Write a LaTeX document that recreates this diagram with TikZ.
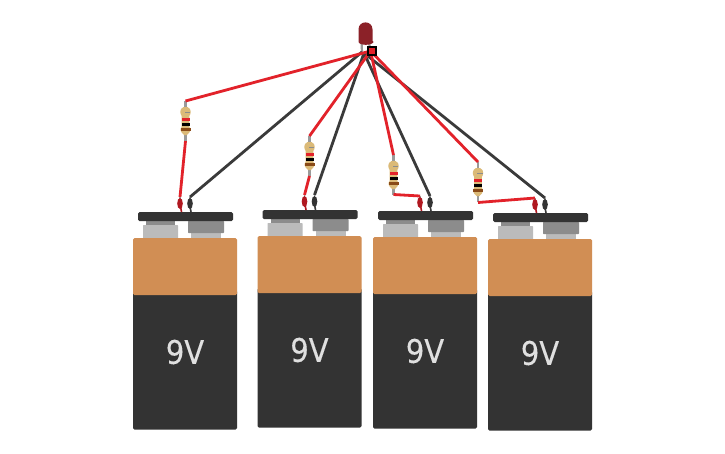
\documentclass[tikz,border=0pt]{standalone}
\usepackage{fontspec}
\setmainfont{DejaVu Sans}
\newfontfamily\voltfont[FakeBold=0.25]{DejaVu Sans}
\definecolor{batorange}{HTML}{D18E54}
\definecolor{batdark}{HTML}{333333}
\definecolor{studlight}{HTML}{BBBBBB}
\definecolor{studmid}{HTML}{8C8C8C}
\definecolor{wirered}{HTML}{E2222A}
\definecolor{wiredark}{HTML}{3A3A3A}
\definecolor{clipred}{HTML}{B01820}
\definecolor{legray}{HTML}{9A9A9A}
\definecolor{restan}{HTML}{DBBA78}
\definecolor{ledred}{HTML}{8B2128}
\definecolor{bandbrown}{HTML}{8A4B18}
\tikzset{
  x=1pt,y=-1pt,
  redwire/.style={draw=wirered,line width=2.8pt,line join=round},
  darkwire/.style={draw=wiredark,line width=2.8pt,line join=round},
  leadline/.style={draw=legray,line width=2.2pt},
  volt/.style={text=white!88!black,font=\voltfont\fontsize{29}{29}\selectfont,inner sep=0pt,yscale=1.12},
}
% battery: #1 name, #2 dx, #3 dy
\newcommand{\batt}[3]{%
 \begin{scope}[shift={(#2,#3)}]
  \fill[studmid] (146,221) rectangle (175,226);
  \fill[studlight,rounded corners=0.7pt] (143,225) rectangle (178,239);
  \fill[studlight] (191,232) rectangle (221,239);
  \fill[studmid,rounded corners=0.7pt] (188,221) rectangle (224,233);
  \fill[batdark,rounded corners=1.5pt] (138,212) rectangle (233,221);
  \fill[batdark,rounded corners=1.5pt] (133,290) rectangle (237,429.5);
  \fill[batorange,rounded corners=1.5pt] (133,238) -- (237,238) -- (237,295) -- (133,295) -- cycle;
  \node[volt] (#1label) at (185,352) {9V};
  \coordinate (#1redtip) at (180,197);
  \coordinate (#1darktip) at (190,197);
  \draw[clipred,line width=1.6pt] (180.5,206) -- (181.5,212);
  \draw[wiredark,line width=1.6pt] (190,206) -- (191,212);
  \draw[legray,line width=1.6pt] (#1redtip) -- ++(0,3);
  \draw[legray,line width=1.6pt] (#1darktip) -- ++(0,3);
  \fill[clipred] (180,203.5) ellipse [x radius=2.8,y radius=5.5];
  \fill[batdark] (190,203.5) ellipse [x radius=2.8,y radius=5.5];
 \end{scope}}
% resistor: #1 name, #2 x, #3 y centre
\newcommand{\resist}[3]{%
 \begin{scope}[shift={(#2,#3)}]
  \coordinate (#1top) at (0,-20);
  \coordinate (#1bot) at (0,20);
  \draw[leadline] (#1top) -- (#1bot);
  \fill[restan] (-2,-14) .. controls (-6.5,-12) and (-5.5,-7) .. (-3.8,-5) -- (-3.8,6) .. controls (-6,8) and (-5,11) .. (-1.5,14) -- (1.5,14) .. controls (5,11) and (6,8) .. (3.8,6) -- (3.8,-5) .. controls (5.5,-7) and (6.5,-12) .. (2,-14) -- cycle;
  \fill[studmid] (-1,-9) rectangle (4.5,-8);
  \fill[wirered] (-4,-3) rectangle (4,0);
  \fill[black] (-4,2) rectangle (4,5);
  \fill[bandbrown] (-5,7) rectangle (5,10);
 \end{scope}}
\begin{document}
\begin{tikzpicture}
\useasboundingbox (0,0) rectangle (725,453);
\fill[white] (0,0) rectangle (725,453);
\batt{ba}{0}{0}
\batt{bb}{124.5}{-2}
\batt{bc}{240}{-1}
\batt{bd}{355}{1}
\resist{ra}{185.5}{121}
\resist{rb}{309.5}{156}
\resist{rc}{393.5}{175}
\resist{rd}{478}{182}
% LED
\coordinate (ledl) at (362,52);
\coordinate (ledm) at (364,53);
\coordinate (ledr) at (370.5,51);
\coordinate (rcjog) at (393.5,194.5);
\coordinate (rdjog) at (478,202.5);
\draw[leadline] (361.5,42) -- (ledl);
\draw[leadline] (369,42) -- (ledr);
\fill[ledred] (358.5,42) -- (358.5,29.5) .. controls (358.5,20) and (372.5,20) .. (372.5,29.5) -- (372.5,41) -- (373.5,42) .. controls (372,45.5) and (360,46) .. (358.5,42) -- cycle;
% wires
\draw[darkwire] (badarktip) -- (ledl);
\draw[darkwire] (bbdarktip) -- (ledm);
\draw[darkwire] (bcdarktip) -- (ledm);
\draw[darkwire] (bddarktip) -- (ledm);
\draw[redwire] (ratop) -- (ledr);
\draw[redwire] (rbtop) -- (ledr);
\draw[redwire] (rctop) -- (ledr);
\draw[redwire] (rdtop) -- (ledr);
\draw[redwire] (rabot) -- (baredtip);
\draw[redwire] (rbbot) -- (bbredtip);
\draw[redwire] (rcjog) -- (bcredtip);
\draw[redwire] (rdjog) -- (bdredtip);
\node[draw=black,fill=wirered,line width=2pt,minimum size=8pt,inner sep=0pt] (ledpin) at (371.5,50.5) {};
\end{tikzpicture}
\end{document}
